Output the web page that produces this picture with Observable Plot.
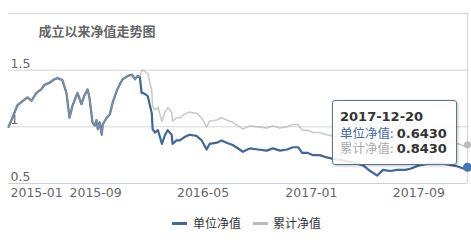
<!DOCTYPE html>
<html><head><meta charset="utf-8">
<script src="https://cdn.jsdelivr.net/npm/d3@7"></script>
<script src="https://cdn.jsdelivr.net/npm/@observablehq/plot@0.6"></script>
<style>
body{margin:0;background:#fff;}
#wrap{position:relative;width:471px;height:245px;overflow:hidden;background:#fff;}
#legend{position:relative;height:45px;font-family:"Noto Sans CJK SC",sans-serif;font-size:12px;color:#333;}
.sw{position:absolute;height:3px;width:15px;top:22px;}
.lt{position:absolute;top:15px;line-height:16px;}
#tip{position:absolute;left:332px;top:100px;width:125px;height:65px;box-sizing:border-box;border:1px solid #56739a;border-radius:3px;background:rgba(255,255,255,0.86);box-shadow:1px 1px 3px rgba(0,0,0,0.25);padding:8px 0 0 7px;font-size:13px;color:#333;white-space:nowrap;}
#tip div{height:15.5px;line-height:15.5px;overflow:visible;}
#tip .d{font-family:"DejaVu Sans",sans-serif;font-weight:bold;}
#tip .v{font-family:"DejaVu Sans",sans-serif;font-weight:bold;line-height:15px;}
#tip .l{font-family:"Noto Sans CJK SC",sans-serif;font-size:12.5px;line-height:15px;}
</style>
</head><body>
<div id="wrap"></div>
<script>
const title = "成立以来净值走势图";
const seriesNames = ["单位净值", "累计净值"];
const seriesColors = ["#40679a", "#a8a8a8"];
const yTicks = [0.5, 1, 1.5];
const gridLines = [1, 1.5, 2];
const xTickDates = ["2015-01-01", "2015-09-01", "2016-05-01", "2017-01-01", "2017-09-01"];

const dates = ["2015-02-16","2015-02-25","2015-03-08","2015-03-24","2015-03-31","2015-04-09","2015-04-20","2015-05-01","2015-05-08","2015-05-20",
"2015-05-31","2015-06-07","2015-06-18","2015-06-27","2015-07-04","2015-07-11","2015-07-20","2015-07-22","2015-07-31","2015-08-07",
"2015-08-14","2015-08-18","2015-08-25","2015-08-30","2015-09-03","2015-09-06","2015-09-10","2015-09-15","2015-09-17","2015-09-26",
"2015-10-03","2015-10-10","2015-10-19","2015-10-25","2015-11-01","2015-11-13","2015-11-22","2015-11-29","2015-12-05","2015-12-10",
"2015-12-14","2015-12-17","2015-12-21","2015-12-28","2016-01-06","2016-01-08","2016-01-13","2016-01-20","2016-01-29","2016-02-05",
"2016-02-11","2016-02-20","2016-02-22","2016-03-02","2016-03-09","2016-03-20","2016-03-31","2016-04-16","2016-04-28","2016-05-09",
"2016-05-16","2016-06-01","2016-06-12","2016-06-23","2016-07-07","2016-07-23","2016-07-30","2016-08-15","2016-09-02","2016-09-22",
"2016-10-06","2016-10-22","2016-11-07","2016-11-20","2016-12-02","2016-12-11","2016-12-24","2017-01-05","2017-01-20","2017-02-05",
"2017-02-17","2017-03-18","2017-04-10","2017-04-28","2017-05-14","2017-05-30","2017-06-12","2017-06-28","2017-07-14","2017-08-01",
"2017-08-13","2017-09-01","2017-09-17","2017-10-10","2017-11-01","2017-11-17","2017-11-28","2017-12-12","2017-12-20"];

const unitNav = [1.00,1.08,1.19,1.24,1.26,1.23,1.30,1.33,1.37,1.39,
1.42,1.43,1.41,1.30,1.08,1.19,1.28,1.30,1.20,1.28,
1.33,1.26,1.04,1.01,1.06,0.98,1.04,0.93,1.02,1.08,
1.11,1.22,1.32,1.37,1.42,1.45,1.46,1.42,1.45,1.44,
1.30,1.30,1.29,1.27,1.12,0.98,0.95,0.97,0.85,0.93,
0.97,0.93,0.85,0.88,0.88,0.91,0.93,0.92,0.88,0.80,
0.85,0.86,0.88,0.86,0.84,0.80,0.78,0.81,0.80,0.79,
0.81,0.79,0.80,0.82,0.82,0.77,0.77,0.75,0.75,0.73,
0.72,0.70,0.68,0.66,0.61,0.57,0.62,0.61,0.62,0.62,
0.63,0.66,0.67,0.68,0.67,0.66,0.65,0.63,0.643];

const cumNav = [1.00,1.08,1.19,1.24,1.26,1.23,1.30,1.33,1.37,1.39,
1.42,1.43,1.41,1.30,1.08,1.19,1.28,1.30,1.20,1.28,
1.33,1.26,1.04,1.01,1.06,0.98,1.04,0.93,1.02,1.08,
1.11,1.22,1.32,1.37,1.42,1.45,1.46,1.42,1.45,1.44,
1.49,1.50,1.49,1.47,1.32,1.18,1.15,1.17,1.05,1.13,
1.17,1.13,1.05,1.08,1.08,1.11,1.13,1.12,1.08,1.00,
1.05,1.06,1.08,1.06,1.04,1.00,0.98,1.01,1.00,0.99,
1.01,0.99,1.00,1.02,1.02,0.97,0.97,0.95,0.95,0.93,
0.92,0.90,0.88,0.86,0.81,0.77,0.82,0.81,0.82,0.82,
0.83,0.86,0.87,0.88,0.87,0.86,0.85,0.83,0.843];

const parse = d3.utcParse("%Y-%m-%d");
const rows = dates.map((d, i) => ({date: parse(d), unit: unitNav[i], cum: cumNav[i]}));
const first = rows[0].date, last = rows[rows.length - 1].date;
const fmt = d3.utcFormat("%Y-%m");
const xTicks = xTickDates.map(parse);
const outTicks = xTicks.filter(d => d < first);
const inTicks = xTicks.filter(d => d >= first);
const lastRow = rows[rows.length - 1];

const chart = Plot.plot({
  width: 471, height: 200,
  marginLeft: 8, marginRight: 4, marginTop: 13, marginBottom: 17,
  x: {type: "utc", domain: [first, last], axis: null},
  y: {domain: [0.5, 2.0], axis: null},
  style: {fontFamily: "DejaVu Sans, sans-serif", fontSize: "12.5px", color: "#666", background: "#fff"},
  marks: [
    Plot.ruleY(gridLines, {stroke: "#d6d6d6"}),
    Plot.ruleY([0.5], {stroke: "#c8d0dc"}),
    Plot.ruleX([last], {y1: 0.5, y2: 2.0, stroke: "#d6d6d6"}),
    Plot.text([title], {frameAnchor: "top-left", dx: 30, dy: 18, textAnchor: "start", lineAnchor: "middle",
      fontWeight: "bold", fontSize: 13, fill: "#666", fontFamily: "Noto Sans CJK SC, sans-serif"}),
    Plot.text(yTicks, {y: d => d, text: d => String(d), frameAnchor: "left", textAnchor: "start", dx: 2, dy: -6.5,
      lineAnchor: "middle", fill: "#666"}),
    Plot.text(inTicks, {x: d => d, text: d => fmt(d), frameAnchor: "bottom",
      textAnchor: "middle", dy: 4.5, lineAnchor: "top", fill: "#666"}),
    Plot.text(outTicks, {text: d => fmt(d), frameAnchor: "bottom-left",
      textAnchor: "start", dx: 2, dy: 4.5, lineAnchor: "top", fill: "#666"}),
    Plot.line(rows, {x: "date", y: "unit", stroke: seriesColors[0], strokeWidth: 2.2}),
    Plot.line(rows, {x: "date", y: "cum", stroke: seriesColors[1], strokeWidth: 1.6, strokeOpacity: 0.6}),
    Plot.dot([lastRow], {x: "date", y: "cum", r: 3.5, fill: "#bdbdbd"}),
    Plot.dot([lastRow], {x: "date", y: "unit", r: 4.5, fill: "#4477b4"})
  ]
});

const wrap = document.getElementById("wrap");
wrap.appendChild(chart);

const legend = document.createElement("div");
legend.id = "legend";
const legX = [[172, 193], [253, 273]];
seriesNames.forEach((n, i) => {
  const sw = document.createElement("span");
  sw.className = "sw";
  sw.style.left = legX[i][0] + "px";
  sw.style.background = i === 0 ? seriesColors[0] : "#bbb";
  legend.appendChild(sw);
  const t = document.createElement("span");
  t.className = "lt";
  t.style.left = legX[i][1] + "px";
  t.textContent = n;
  legend.appendChild(t);
});
wrap.appendChild(legend);

const tip = document.createElement("div");
tip.id = "tip";
tip.innerHTML = `<div class="d">${d3.utcFormat("%Y-%m-%d")(lastRow.date)}</div>` +
  `<div><span class="l" style="color:#3e6aa5">${seriesNames[0]}:</span> <span class="v">${lastRow.unit.toFixed(4)}</span></div>` +
  `<div><span class="l" style="color:#aaa">${seriesNames[1]}:</span> <span class="v">${lastRow.cum.toFixed(4)}</span></div>`;
wrap.appendChild(tip);
</script>
</body></html>
